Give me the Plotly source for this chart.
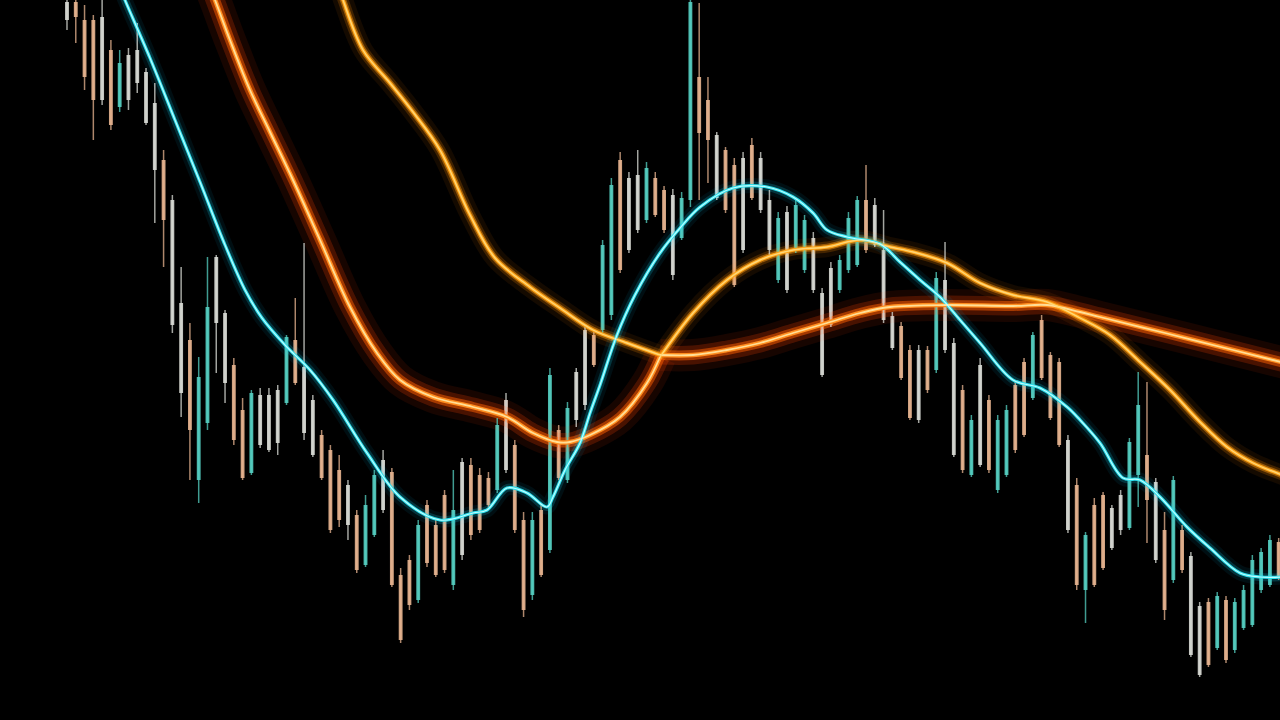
import plotly.graph_objects as go

# ---- candle data (price units; one entry per bar) ----
bar_open = [700, 718, 700, 700, 620, 670, 613, 620, 637, 597, 550, 560, 395, 327, 380, 240, 297, 397, 337, 355,
            310, 247, 275, 270, 277, 317, 380, 287, 265, 285, 270, 250, 195, 205, 155, 185, 210, 248, 145, 160,
            120, 215, 195, 225, 135, 165, 255, 245, 242, 230, 250, 275, 200, 125, 210, 170, 290, 240, 300, 315,
            385, 390, 405, 560, 470, 490, 500, 542, 530, 445, 482, 520, 643, 620, 522, 570, 555, 470, 575, 510,
            470, 440, 430, 470, 450, 430, 345, 395, 430, 450, 455, 520, 475, 400, 372, 394, 370, 300, 370, 350,
            370, 265, 330, 245, 255, 320, 230, 245, 335, 358, 322, 400, 365, 358, 190, 235, 130, 215, 225, 172,
            190, 192, 245, 265, 160, 190, 140, 190, 65, 45, 118, 72, 120, 70, 92, 95, 130, 135, 178]
bar_high = [720, 720, 715, 705, 720, 680, 670, 672, 697, 652, 637, 570, 525, 453, 397, 363, 463, 465, 410, 362,
            322, 330, 332, 332, 335, 385, 422, 477, 325, 290, 275, 265, 240, 210, 225, 250, 270, 252, 152, 165,
            200, 220, 200, 230, 250, 262, 262, 252, 248, 302, 327, 280, 208, 208, 215, 352, 295, 318, 352, 395,
            388, 480, 542, 568, 548, 570, 558, 548, 534, 531, 528, 720, 717, 643, 588, 573, 562, 568, 582, 568,
            530, 508, 514, 522, 505, 488, 432, 458, 465, 508, 524, 555, 522, 510, 408, 398, 375, 375, 374, 448,
            478, 382, 335, 305, 362, 325, 305, 315, 338, 362, 388, 405, 368, 362, 285, 242, 188, 222, 228, 215,
            230, 282, 348, 338, 242, 208, 244, 195, 168, 118, 122, 128, 124, 122, 135, 165, 172, 185, 182]
bar_low = [690, 677, 630, 580, 615, 590, 608, 610, 627, 595, 497, 453, 387, 303, 240, 217, 290, 347, 317, 275,
           240, 245, 272, 268, 265, 315, 335, 280, 263, 240, 187, 193, 180, 147, 153, 183, 207, 133, 77, 110,
           117, 153, 143, 147, 130, 160, 180, 187, 213, 227, 247, 187, 103, 120, 143, 167, 240, 237, 293, 310,
           353, 387, 400, 447, 467, 487, 497, 503, 487, 440, 480, 513, 520, 537, 520, 507, 433, 467, 520, 507,
           462, 437, 427, 467, 447, 427, 343, 393, 427, 447, 453, 467, 473, 397, 370, 340, 300, 297, 327, 347,
           367, 263, 247, 243, 253, 247, 227, 243, 267, 283, 320, 340, 300, 273, 187, 130, 97, 133, 150, 170,
           185, 190, 213, 177, 157, 100, 137, 147, 63, 43, 53, 70, 57, 67, 90, 93, 127, 133, 140]
bar_close = [718, 703, 643, 620, 703, 595, 657, 665, 670, 648, 617, 500, 520, 417, 290, 343, 413, 463, 407, 280,
             242, 327, 325, 325, 330, 383, 337, 353, 320, 242, 190, 200, 235, 150, 215, 245, 260, 135, 80, 115,
             195, 157, 145, 150, 210, 258, 185, 190, 215, 295, 320, 190, 110, 200, 145, 345, 242, 312, 348, 390,
             355, 475, 535, 450, 542, 545, 552, 505, 490, 525, 522, 718, 587, 580, 585, 510, 435, 562, 522, 562,
             520, 502, 508, 515, 500, 482, 427, 452, 460, 502, 520, 470, 515, 470, 404, 342, 302, 370, 330, 442,
             440, 377, 250, 300, 355, 250, 300, 310, 270, 285, 385, 342, 302, 275, 280, 135, 185, 135, 152, 212,
             225, 278, 315, 220, 238, 110, 240, 150, 164, 114, 55, 124, 60, 118, 130, 160, 168, 180, 142]
bar_tone = ["pale", "peach", "peach", "peach", "pale", "peach", "teal", "pale", "pale", "pale",
            "pale", "peach", "pale", "pale", "peach", "teal", "teal", "pale", "pale", "peach",
            "peach", "teal", "pale", "pale", "pale", "teal", "peach", "pale", "pale", "peach",
            "peach", "peach", "pale", "peach", "teal", "teal", "pale", "peach", "peach", "peach",
            "teal", "peach", "peach", "peach", "teal", "pale", "peach", "peach", "peach", "teal",
            "pale", "peach", "peach", "teal", "peach", "teal", "peach", "teal", "pale", "pale",
            "peach", "teal", "teal", "peach", "pale", "pale", "teal", "peach", "peach", "pale",
            "teal", "teal", "peach", "peach", "pale", "peach", "peach", "pale", "peach", "pale",
            "pale", "teal", "pale", "teal", "teal", "pale", "pale", "pale", "teal", "teal",
            "teal", "peach", "pale", "pale", "pale", "peach", "peach", "pale", "peach", "teal",
            "pale", "pale", "peach", "teal", "pale", "peach", "teal", "teal", "peach", "peach",
            "teal", "peach", "peach", "peach", "pale", "peach", "teal", "peach", "peach", "pale",
            "pale", "teal", "teal", "peach", "pale", "peach", "teal", "peach", "pale", "pale",
            "peach", "teal", "peach", "teal", "teal", "teal", "teal", "teal", "peach"]

# ---- moving-average lines (bar index, price) ----
fast_x = [5.9, 6.6, 9.45, 12.3, 15.15, 18.0, 20.28, 22.21, 24.83, 27.68, 30.3, 34.17, 37.93, 42.48, 46.24, 47.84,
          50.11, 52.39, 54.67, 55.35, 56.72, 58.43, 59.57, 60.71, 62.64, 64.69, 67.54, 69.82, 72.1, 75.85, 79.73,
          82.69, 84.97, 86.56, 88.84, 92.6, 94.87, 97.15, 99.43, 101.71, 103.99, 107.74, 110.82, 113.9, 115.38,
          117.65, 120.27, 122.21, 124.49, 127.56, 130.18, 133.6, 135.88, 138.72]
fast_y = [735, 720, 662, 600, 538, 475, 430, 402, 375, 350, 320, 267, 223, 200, 207, 210,
          232, 227, 213, 223, 250, 277, 307, 335, 385, 425, 467, 492, 513, 532, 533,
          523, 507, 490, 483, 476, 458, 440, 423, 400, 377, 340, 332, 313, 300,
          277, 242, 240, 223, 193, 172, 147, 143, 143]

mid_x = [15.72, 16.86, 18.56, 20.84, 23.12, 25.74, 28.82, 32.23, 35.31, 37.93, 41.69, 46.24, 50.11, 53.08, 55.81,
         57.29, 59.57, 62.98, 66.06, 67.54, 71.3, 75.17, 78.93, 82.69, 86.56, 90.32, 93.74, 96.36, 100.23, 103.99,
         107.74, 111.62, 115.38, 118.79, 122.21, 125.63, 129.04, 132.12, 135.08, 138.72]
mid_y = [745, 720, 680, 630, 588, 540, 480, 413, 367, 340, 323, 313, 303, 287, 278,
         278, 285, 303, 337, 363, 407, 440, 460, 470, 473, 480, 473, 468, 457, 437,
         425, 418, 402, 385, 358, 330, 298, 273, 257, 244]

slow_x = [30.87, 31.44, 33.71, 36.79, 39.41, 42.48, 45.9, 48.75, 52.73, 56.15, 59.91, 63.78, 67.54, 71.3,
          75.17, 78.93, 82.69, 86.56, 90.32, 93.74, 100.23, 107.74, 111.62, 115.38, 117.65, 125.06, 132.8, 138.72]
slow_y = [735, 720, 670, 637, 608, 570, 505, 462, 433, 412, 390, 377, 365, 365,
          370, 377, 387, 397, 407, 413, 415, 414, 415, 408, 403, 387, 370, 357]

swap_at = 67.54  # where the two orange lines meet and trade colours

TONE_COLORS = {"teal": "#56d0c2", "peach": "#e8b591", "pale": "#dadcd6"}

DEEP = dict(glow=[(32, "rgba(255,50,0,0.09)"), (19, "rgba(255,70,0,0.22)"), (10, "rgba(255,95,0,0.5)")],
            main=(4.6, "rgb(255,140,30)"), core=(1.8, "rgb(255,222,150)"))
AMBER = dict(glow=[(20, "rgba(255,130,0,0.08)"), (11, "rgba(255,140,0,0.2)"), (6.5, "rgba(255,150,10,0.45)")],
             main=(3.6, "rgb(255,165,25)"), core=(1.4, "rgb(255,215,120)"))
CYAN = dict(glow=[(15, "rgba(0,200,255,0.07)"), (8, "rgba(20,210,240,0.2)")],
            main=(3.2, "rgb(45,222,236)"), core=(1.2, "rgb(190,255,255)"))


def seg(xs, ys, lo, hi):
    pts = [(x, y) for x, y in zip(xs, ys) if lo <= x <= hi]
    return [p[0] for p in pts], [p[1] for p in pts]


segments = [
    (seg(slow_x, slow_y, -1e9, swap_at), AMBER),
    (seg(slow_x, slow_y, swap_at, 1e9), DEEP),
    (seg(mid_x, mid_y, -1e9, swap_at), DEEP),
    (seg(mid_x, mid_y, swap_at, 1e9), AMBER),
    ((fast_x, fast_y), CYAN),
]

fig = go.Figure()


def add_line(xy, width, color):
    fig.add_trace(go.Scatter(x=xy[0], y=xy[1], mode="lines",
                             line=dict(color=color, width=width, shape="spline", smoothing=1.0),
                             hoverinfo="skip", showlegend=False))


# glow layers first
for xy, sty in segments:
    for w, col in sty["glow"]:
        add_line(xy, w, col)

# candles
for tone, col in TONE_COLORS.items():
    idx = [i for i, t in enumerate(bar_tone) if t == tone]
    wx, wy = [], []
    for i in idx:
        wx += [i, i, None]
        wy += [bar_low[i], bar_high[i], None]
    fig.add_trace(go.Scatter(x=wx, y=wy, mode="lines", line=dict(color=col, width=1.5),
                             opacity=0.75, hoverinfo="skip", showlegend=False))
    fig.add_trace(go.Bar(x=idx,
                         base=[min(bar_open[i], bar_close[i]) for i in idx],
                         y=[abs(bar_close[i] - bar_open[i]) for i in idx],
                         width=0.44, marker=dict(color=col, line=dict(width=0)),
                         opacity=0.9, hoverinfo="skip", showlegend=False))

# line bodies and bright cores on top
for xy, sty in segments:
    add_line(xy, *sty["main"])
for xy, sty in segments:
    add_line(xy, *sty["core"])

fig.update_layout(
    width=1280, height=720,
    margin=dict(l=0, r=0, t=0, b=0),
    paper_bgcolor="black", plot_bgcolor="black",
    barmode="overlay", showlegend=False,
    xaxis=dict(range=[-7.63, 138.15], visible=False, fixedrange=True),
    yaxis=dict(range=[0, 720], visible=False, fixedrange=True),
)

fig.write_html("out.html", config={"displayModeBar": False},
               post_script="document.body.style.margin='0';document.body.style.background='black';"
                           "document.body.style.overflow='hidden';")
